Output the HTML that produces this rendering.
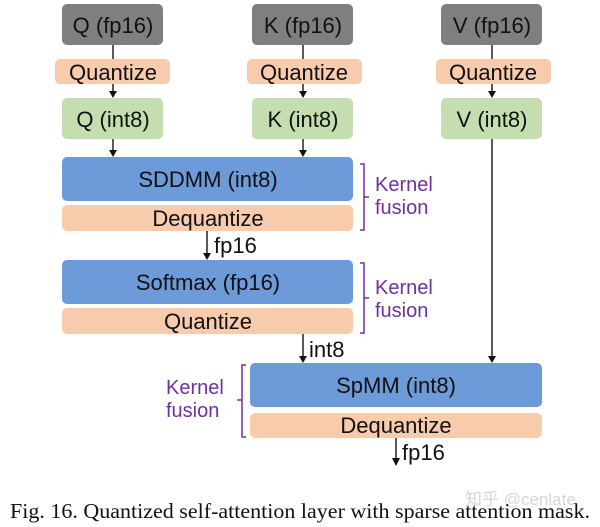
<!DOCTYPE html>
<html><head><meta charset="utf-8"><style>
body{margin:0;background:#fff;width:600px;height:527px;overflow:hidden}
svg{display:block}
text{font-family:"Liberation Sans",sans-serif}
.t{font-size:22px;fill:#111;text-anchor:middle}
.p{font-size:20px;fill:#7030a0}
</style></head><body>
<svg width="600" height="527" viewBox="0 0 600 527">
<g stroke="#222" stroke-width="1.5" fill="none">
<line x1="113" y1="45" x2="113" y2="59"/><line x1="303" y1="45" x2="303" y2="59"/><line x1="492" y1="45" x2="492" y2="59"/>
<line x1="113" y1="84" x2="113" y2="92"/><line x1="303" y1="84" x2="303" y2="92"/><line x1="492" y1="84" x2="492" y2="92"/>
<line x1="113" y1="139" x2="113" y2="151"/><line x1="303" y1="139" x2="303" y2="151"/>
<line x1="492" y1="139" x2="492" y2="357"/>
<line x1="207" y1="231" x2="207" y2="254"/>
<line x1="303" y1="334" x2="303" y2="357"/>
<line x1="396" y1="438" x2="396" y2="459"/>
</g>
<g fill="#111">
<path d="M109,91 h8 l-4,7z"/><path d="M299,91 h8 l-4,7z"/><path d="M488,91 h8 l-4,7z"/>
<path d="M109,150 h8 l-4,7z"/><path d="M299,150 h8 l-4,7z"/>
<path d="M488,356 h8 l-4,7z"/>
<path d="M203,253 h8 l-4,7z"/><path d="M299,356 h8 l-4,7z"/><path d="M392,458 h8 l-4,8z"/>
</g>
<g>
<rect x="62" y="4" width="101" height="41" rx="5" fill="#7f7f7f"/>
<rect x="252" y="4" width="101" height="41" rx="5" fill="#7f7f7f"/>
<rect x="441" y="4" width="101" height="41" rx="5" fill="#7f7f7f"/>
<rect x="55" y="59" width="115" height="25" rx="5" fill="#f8cbad"/>
<rect x="247" y="59" width="115" height="25" rx="5" fill="#f8cbad"/>
<rect x="436" y="59" width="115" height="25" rx="5" fill="#f8cbad"/>
<rect x="62" y="98" width="101" height="41" rx="5" fill="#c5deb0"/>
<rect x="252" y="98" width="101" height="41" rx="5" fill="#c5deb0"/>
<rect x="441" y="98" width="101" height="41" rx="5" fill="#c5deb0"/>
<rect x="62" y="157" width="291" height="44" rx="5" fill="#6d9bd9"/>
<rect x="62" y="205" width="291" height="26" rx="5" fill="#f8cbad"/>
<rect x="62" y="260" width="291" height="44" rx="5" fill="#6d9bd9"/>
<rect x="62" y="308" width="291" height="26" rx="5" fill="#f8cbad"/>
<rect x="250" y="363" width="292" height="44" rx="5" fill="#6d9bd9"/>
<rect x="250" y="413" width="292" height="25" rx="5" fill="#f8cbad"/>
</g>
<g>
<text x="113" y="33" class="t">Q (fp16)</text><text x="303" y="33" class="t">K (fp16)</text><text x="492" y="33" class="t">V (fp16)</text>
<text x="113" y="80" class="t">Quantize</text><text x="304" y="80" class="t">Quantize</text><text x="493" y="80" class="t">Quantize</text>
<text x="113" y="127" class="t">Q (int8)</text><text x="303" y="127" class="t">K (int8)</text><text x="492" y="127" class="t">V (int8)</text>
<text x="208" y="187" class="t">SDDMM (int8)</text>
<text x="208" y="226" class="t">Dequantize</text>
<text x="208" y="290" class="t">Softmax (fp16)</text>
<text x="208" y="329" class="t">Quantize</text>
<text x="396" y="393" class="t">SpMM (int8)</text>
<text x="396" y="433" class="t">Dequantize</text>
</g>
<g style="font-size:22px;fill:#111">
<text x="214" y="253">fp16</text><text x="309" y="357">int8</text><text x="402" y="460">fp16</text>
</g>
<g stroke="#7030a0" stroke-width="1.5" fill="none">
<path d="M360,164 H364 V230 H360 M364,197 H369"/>
<path d="M360,263 H364 V333 H360 M364,298 H369"/>
<path d="M246,365 H242 V437 H246 M242,400 H237"/>
</g>
<g>
<text x="375" y="191" class="p">Kernel</text><text x="375" y="214" class="p">fusion</text>
<text x="375" y="294" class="p">Kernel</text><text x="375" y="317" class="p">fusion</text>
<text x="166" y="394" class="p">Kernel</text><text x="166" y="417" class="p">fusion</text>
</g>
<text x="465" y="505" style="font-family:'Liberation Sans','Noto Sans CJK SC',sans-serif;font-size:17px;fill:#ccc;opacity:0.8">知乎 @cenlate</text>
<text x="10" y="518" textLength="580" lengthAdjust="spacingAndGlyphs" style="font-family:'Liberation Serif',serif;font-size:21px;fill:#111">Fig. 16.  Quantized self-attention layer with sparse attention mask.</text>
</svg>
</body></html>
